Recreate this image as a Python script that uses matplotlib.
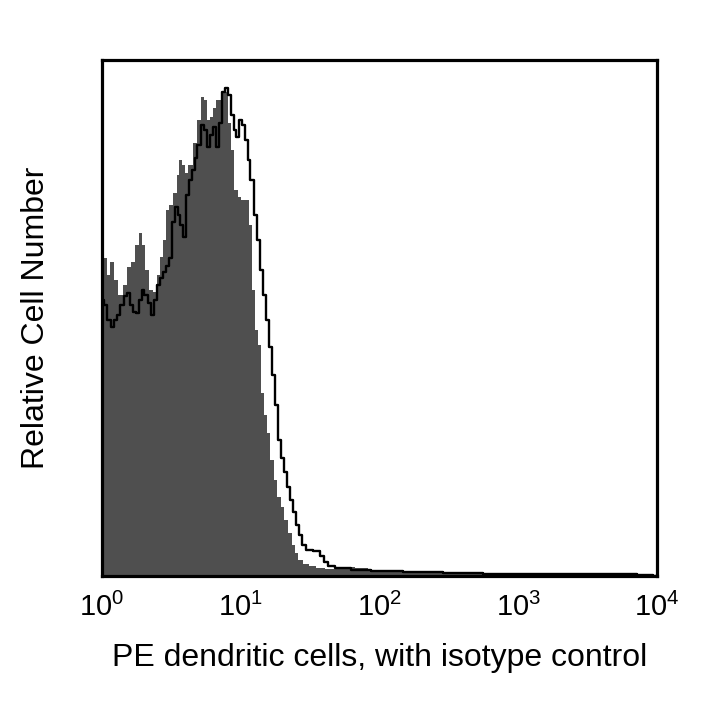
import numpy as np
import matplotlib
matplotlib.use("Agg")
import matplotlib.pyplot as plt

plt.rcParams['font.family'] = ['Liberation Sans', 'DejaVu Sans']
plt.rcParams['mathtext.fontset'] = 'custom'
plt.rcParams['mathtext.rm'] = 'Liberation Sans'
plt.rcParams['mathtext.it'] = 'Liberation Sans'
plt.rcParams['mathtext.default'] = 'regular'

# Isotype control (filled) — log10 intensity and relative counts
iso_log = [0.000, 0.022, 0.043, 0.072, 0.094, 0.130, 0.166, 0.187, 0.223, 0.252,
           0.274, 0.295, 0.324, 0.346, 0.382, 0.404, 0.425, 0.447, 0.468, 0.497,
           0.526, 0.548, 0.562, 0.584, 0.605, 0.634, 0.670, 0.699, 0.721, 0.742,
           0.764, 0.786, 0.807, 0.829, 0.850, 0.872, 0.894, 0.915, 0.937, 0.966,
           0.987, 1.016, 1.045, 1.067, 1.088, 1.110, 1.132, 1.153, 1.175, 1.196,
           1.225, 1.247, 1.276, 1.297, 1.326, 1.355, 1.377, 1.398, 1.427, 1.463,
           1.514, 1.571, 1.643, 1.715, 1.787, 1.859, 1.968, 2.076, 2.292, 2.580,
           2.868, 3.229, 3.589, 3.877, 3.986]
iso_counts = [314, 318, 301, 314, 296, 281, 291, 309, 314, 331,
              343, 331, 306, 286, 284, 301, 319, 336, 366, 371,
              383, 401, 416, 411, 403, 411, 433, 456, 479, 476,
              456, 459, 468, 476, 476, 484, 484, 453, 426, 386,
              379, 376, 376, 351, 286, 246, 231, 183, 161, 143,
              116, 96, 79, 69, 56, 43, 31, 23, 16, 12,
              10, 8, 7, 8, 9, 8, 6, 4, 3, 2,
              2, 2, 2, 2, 1]

# PE dendritic cells (line)
pe_log = [0.000, 0.022, 0.050, 0.072, 0.094, 0.115, 0.144, 0.166, 0.187, 0.209,
          0.231, 0.252, 0.274, 0.295, 0.317, 0.339, 0.360, 0.382, 0.404, 0.425,
          0.447, 0.468, 0.490, 0.512, 0.533, 0.555, 0.569, 0.591, 0.613, 0.634,
          0.656, 0.677, 0.699, 0.721, 0.742, 0.764, 0.786, 0.807, 0.829, 0.850,
          0.872, 0.894, 0.915, 0.937, 0.959, 0.973, 0.995, 1.016, 1.038, 1.059,
          1.081, 1.103, 1.124, 1.146, 1.168, 1.189, 1.211, 1.233, 1.254, 1.276,
          1.297, 1.319, 1.341, 1.362, 1.384, 1.405, 1.427, 1.456, 1.485, 1.557,
          1.586, 1.614, 1.643, 1.715, 1.859, 2.004, 2.292, 2.580, 2.868, 3.229,
          3.589, 3.733, 3.950, 3.993]
pe_counts = [276, 271, 256, 249, 256, 261, 271, 280, 283, 271,
             264, 263, 276, 286, 281, 273, 261, 276, 291, 298,
             304, 310, 318, 354, 369, 361, 351, 339, 381, 396,
             406, 418, 431, 451, 446, 429, 441, 449, 429, 453,
             484, 488, 481, 461, 446, 439, 456, 451, 436, 416,
             396, 361, 336, 306, 281, 256, 229, 201, 171, 136,
             118, 104, 89, 76, 64, 51, 41, 31, 26, 25,
             20, 14, 10, 8, 6, 5, 4, 3, 2, 2,
             2, 2, 1, 0]

tick_values = [1, 10, 100, 1000, 10000]
tick_labels = [r'$10^{0}$', r'$10^{1}$', r'$10^{2}$', r'$10^{3}$', r'$10^{4}$']

iso_x = 10 ** np.array(iso_log)
pe_x = 10 ** np.array(pe_log)

fig = plt.figure(figsize=(7.2, 7.2), dpi=100)
ax = fig.add_axes([0.1417, 0.2, 0.7708, 0.7167])

ax.fill_between(iso_x, iso_counts, 0, step='mid', color='#4f4f4f', linewidth=0)
ax.plot(pe_x, pe_counts, drawstyle='steps-mid', color='black', linewidth=1.7)

ax.set_xscale('log')
ax.set_xlim(1, 1e4)
ax.set_ylim(0, 516)
ax.set_yticks([])
ax.set_xticks(tick_values)
ax.set_xticklabels(tick_labels)
ax.xaxis.set_minor_locator(matplotlib.ticker.NullLocator())
ax.tick_params(axis='x', length=0, pad=12, labelsize=21)
for s in ax.spines.values():
    s.set_linewidth(2.3)

ax.set_xlabel('PE dendritic cells, with isotype control', fontsize=23, labelpad=15)
ax.set_ylabel('Relative Cell Number', fontsize=23, labelpad=37)

fig.savefig('out.png', dpi=100)
